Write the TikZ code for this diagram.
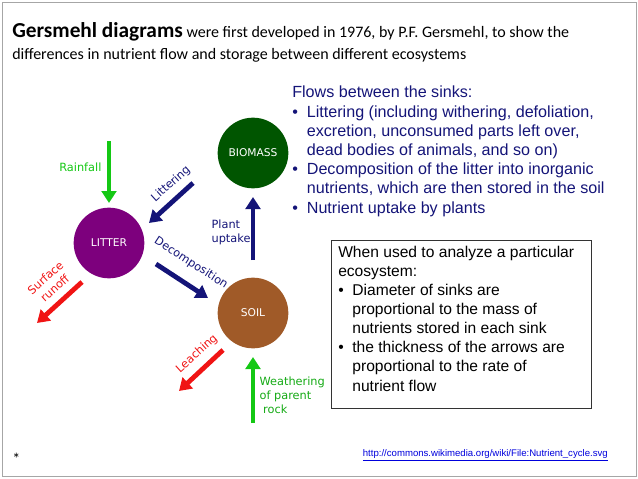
\documentclass[tikz,border=0pt]{standalone}
\usepackage{fontspec}
\setmainfont{Carlito}
\newfontfamily\dv{DejaVu Sans}
\newfontfamily\ls{Liberation Sans}
\usetikzlibrary{arrows.meta}
\definecolor{dnavy}{RGB}{20,20,120}
\definecolor{fgreen}{RGB}{20,200,20}
\definecolor{fred}{RGB}{240,20,20}
\begin{document}
\begin{tikzpicture}[x=0.75pt,y=-0.75pt,
  sink/.style={circle,minimum size=53pt,inner sep=0pt,text=white,font=\dv\fontsize{8}{9}\selectfont},
  flow/.style={line width=3.6pt,-{Triangle[length=9pt,width=11pt]}},
  lab/.style={font=\dv\fontsize{8.5}{10.5}\selectfont,align=left,inner sep=1pt},
  bul/.style={font=\ls\fontsize{11.7}{14.3}\selectfont,align=left,inner sep=0pt,anchor=north west}]
\path[use as bounding box] (0,0) rectangle (638,478);
\draw[gray!70,line width=0.6pt] (2,2) rectangle (636,476);
\node[anchor=north west,inner sep=0pt,align=left,font=\fontsize{12}{17}\selectfont] (title) at (12,22)
 {{\fontsize{16}{17}\selectfont\bfseries Gersmehl diagrams} were first developed in 1976, by P.F. Gersmehl, to show the\\differences in nutrient flow and storage between different ecosystems};
\node[sink,fill={rgb,255:red,0;green,85;blue,0}] (bio) at (253,153) {BIOMASS};
\node[sink,fill={rgb,255:red,125;green,0;blue,125}] (lit) at (109,243) {LITTER};
\node[sink,fill={rgb,255:red,160;green,90;blue,40}] (soil) at (253,313) {SOIL};
\coordinate (r1) at (109,141); \coordinate (r2) at (109,203);
\draw[flow,fgreen] (r1) -- (r2);
\node[lab,text=fgreen,anchor=east] (rl) at (103,167) {Rainfall};
\coordinate (l1) at (193,183); \coordinate (l2) at (149,223);
\draw[flow,dnavy] (l1) -- (l2);
\node[lab,text=dnavy,rotate=42] (ll) at (171,184) {Littering};
\coordinate (p1) at (253,260); \coordinate (p2) at (253,197);
\draw[flow,dnavy] (p1) -- (p2);
\node[lab,text=dnavy,anchor=west] (pl) at (210,232) {Plant\\uptake};
\coordinate (d1) at (156,264); \coordinate (d2) at (208,298);
\draw[flow,dnavy] (d1) -- (d2);
\node[lab,text=dnavy,rotate=-33] (dl) at (191,263) {Decomposition};
\coordinate (s1) at (82,282); \coordinate (s2) at (37,323);
\draw[flow,fred] (s1) -- (s2);
\node[lab,text=fred,rotate=42,align=center] (sl) at (50,283) {Surface\\runoff};
\coordinate (e1) at (223,350); \coordinate (e2) at (179,391);
\draw[flow,fred] (e1) -- (e2);
\node[lab,text=fred,rotate=42] (el) at (197,354) {Leaching};
\coordinate (w1) at (253,423); \coordinate (w2) at (253,357);
\draw[flow,fgreen] (w1) -- (w2);
\node[lab,text={rgb,255:red,20;green,170;blue,20},anchor=north west] (wl) at (258,375) {Weathering\\of parent\\\ rock};
\node[bul,text=dnavy,font=\ls\fontsize{12.1}{14.4}\selectfont] (flows) at (292,86) {Flows between the sinks:\\
\textbullet\ \ Littering (including withering, defoliation,\\
\phantom{\textbullet\ \ }excretion, unconsumed parts left over,\\
\phantom{\textbullet\ \ }dead bodies of animals, and so on)\\
\textbullet\ \ Decomposition of the litter into inorganic\\
\phantom{\textbullet\ \ }nutrients, which are then stored in the soil\\
\textbullet\ \ Nutrient uptake by plants};
\node[draw=black!80,line width=0.5pt,anchor=north west,minimum width=195pt,minimum height=126pt,inner sep=0pt] (box) at (331,240) {};
\node[bul,text=black] (boxt) at (338,246) {When used to analyze a particular\\ecosystem:\\
\textbullet\ \ Diameter of sinks are\\
\phantom{\textbullet\ \ }proportional to the mass of\\
\phantom{\textbullet\ \ }nutrients stored in each sink\\
\textbullet\ \ the thickness of the arrows are\\
\phantom{\textbullet\ \ }proportional to the rate of\\
\phantom{\textbullet\ \ }nutrient flow};
\node[anchor=east,inner sep=0pt,font=\ls\fontsize{7.2}{8}\selectfont,text={rgb,255:red,0;green,0;blue,220}] (url) at (608,455) {\underline{http://commons.wikimedia.org/wiki/File:Nutrient\_cycle.svg}};
\node[anchor=west,inner sep=0pt,font=\fontsize{12}{12}\selectfont] (star) at (12,459) {*};
\end{tikzpicture}
\end{document}
